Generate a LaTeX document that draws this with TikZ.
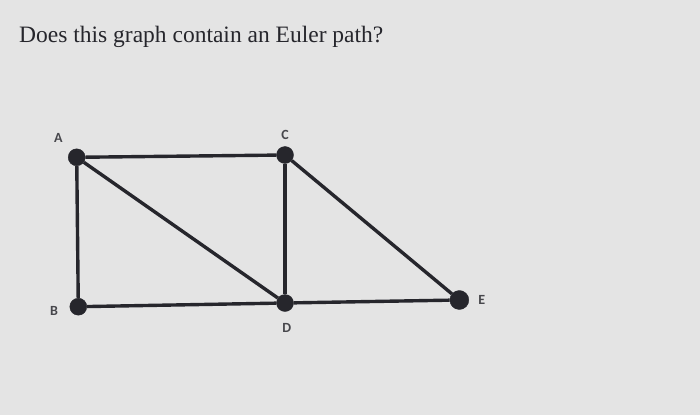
\documentclass[tikz,border=0pt]{standalone}
\usepackage{fontspec}
\setmainfont{Liberation Serif}
\newfontfamily\lblfont{Carlito}
\usetikzlibrary{positioning}

\definecolor{paper}{RGB}{228,228,228}
\definecolor{ink}{RGB}{38,38,44}

\begin{document}
\begin{tikzpicture}[x=1pt,y=-1pt,
  vertex/.style={draw=ink,fill=ink,circle,inner sep=0pt,minimum size=17pt},
  lbl/.style={text=ink!85,font=\lblfont\bfseries\fontsize{14}{14}\selectfont},
  edge/.style={draw=ink,line width=3.4pt}]
\fill[paper] (0,0) rectangle (700,415);
\node[anchor=base west,inner sep=0pt,text=ink,font=\fontsize{23.5}{26}\selectfont] (q) at (19,42.7) {Does this graph contain an Euler path?};

\node[vertex] (A) at (76.7,157.3) {};
\node[vertex] (C) at (285,155) {};
\node[vertex] (B) at (78.3,306.7) {};
\node[vertex] (D) at (285,303) {};
\node[vertex,minimum size=19pt] (E) at (459.3,300) {};

\node[lbl] (lA) at (58.3,138.3) {A};
\node[lbl] (lC) at (285,135) {C};
\node[lbl] (lB) at (54,310.7) {B};
\node[lbl] (lD) at (286.7,328.3) {D};
\node[lbl] (lE) at (481.7,300) {E};

\draw[edge] (A) -- (C);
\draw[edge] (A) -- (B);
\draw[edge] (A) -- (D);
\draw[edge] (C) -- (D);
\draw[edge] (C) -- (E);
\draw[edge] (B) -- (D);
\draw[edge] (D) -- (E);
\end{tikzpicture}
\end{document}
